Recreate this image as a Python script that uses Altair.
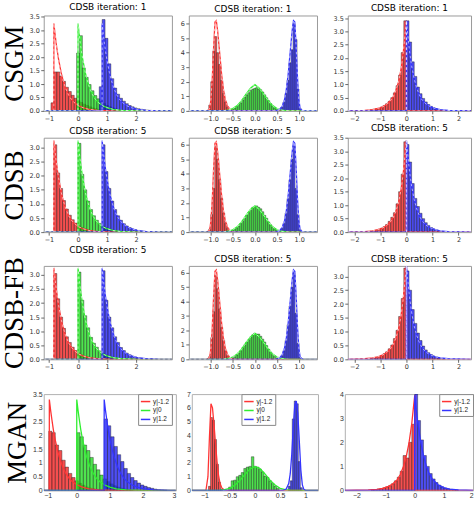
import altair as alt
import pandas as pd

# ---------------------------------------------------------------- series
SERIES = ["y|-1.2", "y|0", "y|1.2"]
BAR_KEYS = ["r", "g", "b"]
FILLS = ["#f21d1d", "#1fdd1f", "#1d1df2"]
STROKES = ["#ff3434", "#30ee30", "#3434ff"]

# ------------------------------------------------ column 1 density curves
# one-sided densities that start at tanh(y) for y = -1.2, 0, 1.2
STARTS = [-0.83, 0.0, 0.83]
EXP_DX = [0.0, 0.04, 0.08, 0.12, 0.16, 0.2, 0.25, 0.3, 0.4, 0.5, 0.6, 0.7, 0.85, 1.0, 1.2, 1.5, 2.0]
EXP_Y = [3.25, 2.85, 2.5, 2.2, 1.93, 1.7, 1.42, 1.2, 0.85, 0.6, 0.43, 0.31, 0.19, 0.12, 0.06, 0.02, 0.0]
MGAN_EXP_Y = [3.3, 2.9, 2.55, 2.22, 1.95, 1.72, 1.45, 1.22, 0.87, 0.62, 0.44, 0.32, 0.2, 0.12, 0.06, 0.02, 0.0]

# ------------------------------------------------ column 2 density curves
C2_RED_X = [-1.08, -1.02, -0.99, -0.96, -0.93, -0.9, -0.87, -0.84, -0.81, -0.78, -0.75, -0.71, -0.67, -0.62, -0.56, -0.48]
C2_RED_Y = [0.0, 0.15, 0.8, 2.3, 4.4, 6.1, 6.2, 5.5, 4.5, 3.5, 2.5, 1.5, 0.8, 0.35, 0.1, 0.0]
C2_GREEN_X = [-0.8, -0.7, -0.6, -0.5, -0.4, -0.3, -0.2, -0.1, 0.0, 0.1, 0.2, 0.3, 0.4, 0.5, 0.6, 0.7, 0.8]
C2_GREEN_Y = [0.0, 0.02, 0.06, 0.16, 0.36, 0.7, 1.15, 1.55, 1.8, 1.55, 1.15, 0.7, 0.36, 0.16, 0.06, 0.02, 0.0]
C2_BLUE_X = [0.48, 0.56, 0.62, 0.67, 0.71, 0.75, 0.78, 0.81, 0.84, 0.87, 0.9, 0.93, 0.96, 0.99, 1.02, 1.08]
C2_BLUE_Y = [0.0, 0.1, 0.35, 0.8, 1.5, 2.5, 3.5, 4.5, 5.5, 6.2, 6.1, 4.4, 2.3, 0.8, 0.15, 0.0]

# ------------------------------------------------ column 3 density curves
C3_RED_X = [-1.6, -1.3, -1.1, -0.9, -0.75, -0.6, -0.5, -0.4, -0.3, -0.2, -0.12, -0.05, 0.0, 0.005]
C3_RED_Y = [0.02, 0.05, 0.09, 0.16, 0.25, 0.4, 0.55, 0.78, 1.1, 1.6, 2.2, 2.9, 3.4, 0.0]
C3_BLUE_X = [-0.005, 0.0, 0.05, 0.12, 0.2, 0.3, 0.4, 0.5, 0.6, 0.75, 0.9, 1.1, 1.3, 1.6]
C3_BLUE_Y = [0.0, 3.4, 2.9, 2.25, 1.7, 1.2, 0.85, 0.6, 0.42, 0.26, 0.17, 0.09, 0.05, 0.02]

# ------------------------------------------------ MGAN density curves
M2_RED_X = [-0.97, -0.93, -0.9, -0.87, -0.84, -0.81, -0.78, -0.75, -0.72, -0.69, -0.65, -0.6, -0.54]
M2_RED_Y = [0.0, 1.0, 3.9, 6.3, 6.0, 4.8, 3.4, 2.1, 1.1, 0.5, 0.15, 0.04, 0.0]
M2_GREEN_X = [-0.7, -0.6, -0.5, -0.4, -0.3, -0.2, -0.1, 0.0, 0.1, 0.2, 0.3, 0.4, 0.5, 0.6, 0.7]
M2_GREEN_Y = [0.02, 0.06, 0.16, 0.38, 0.72, 1.15, 1.55, 1.75, 1.6, 1.2, 0.75, 0.4, 0.16, 0.06, 0.02]
M2_BLUE_X = [0.55, 0.62, 0.67, 0.7, 0.73, 0.76, 0.79, 0.82, 0.85, 0.88, 0.91, 0.94, 0.97, 1.01]
M2_BLUE_Y = [0.0, 0.1, 0.5, 1.2, 2.6, 4.6, 6.2, 6.5, 5.6, 3.6, 1.5, 0.4, 0.08, 0.0]
M3_RED_X = [-1.6, -1.3, -1.1, -0.9, -0.75, -0.6, -0.5, -0.4, -0.3, -0.2, -0.1, -0.04, 0.0, 0.005]
M3_RED_Y = [0.02, 0.05, 0.09, 0.17, 0.28, 0.45, 0.65, 0.95, 1.35, 1.95, 2.8, 3.5, 3.95, 0.0]
M3_BLUE_X = [-0.005, 0.0, 0.04, 0.1, 0.2, 0.3, 0.4, 0.5, 0.6, 0.8, 1.0, 1.2, 1.5]
M3_BLUE_Y = [0.0, 3.95, 3.45, 2.85, 2.05, 1.45, 1.0, 0.7, 0.48, 0.24, 0.12, 0.06, 0.02]

# ------------------------------------------------ histogram heights
# CSGM
CSGM_C1_RED = [0.3, 1.45, 1.45, 1.3, 1.1, 0.88, 0.72, 0.58, 0.47, 0.38, 0.31, 0.25, 0.2, 0.15, 0.11, 0.08, 0.05, 0.03, 0.02]
CSGM_C1_GREEN = [2.15, 2.8, 1.6, 1.25, 0.98, 0.75, 0.57, 0.45, 0.35, 0.27, 0.2, 0.15, 0.11, 0.08, 0.05, 0.03, 0.02]
CSGM_C1_BLUE = [0.9, 3.4, 2.7, 1.75, 1.2, 0.85, 0.62, 0.47, 0.36, 0.27, 0.2, 0.15, 0.11, 0.08, 0.06, 0.04, 0.03, 0.02, 0.01]
CSGM_C2_RED = [0.4, 2.0, 4.1, 5.1, 4.0, 3.2, 2.1, 1.2, 0.6, 0.25, 0.08]
CSGM_C2_GREEN = [0.12, 0.2, 0.3, 0.45, 0.55, 0.75, 0.95, 1.1, 1.25, 1.4, 1.5, 1.55, 1.6, 1.5, 1.45, 1.3, 1.1, 0.9, 0.7, 0.5, 0.35, 0.2, 0.12, 0.05]
CSGM_C2_BLUE = [0.08, 0.25, 0.6, 1.2, 2.1, 3.3, 4.2, 6.0, 4.9, 1.5, 0.2]
CSGM_C3_RED = [0.02, 0.04, 0.06, 0.08, 0.1, 0.14, 0.2, 0.27, 0.36, 0.5, 0.68, 0.95, 1.35, 2.2, 3.4]
CSGM_C3_BLUE = [3.4, 2.6, 1.85, 1.3, 0.9, 0.65, 0.47, 0.34, 0.24, 0.17, 0.12, 0.08, 0.05, 0.03, 0.015]
# CDSB
CDSB_C1_RED = [3.1, 2.1, 1.55, 1.12, 0.82, 0.6, 0.44, 0.32, 0.23, 0.17, 0.12, 0.09, 0.06, 0.045, 0.03, 0.02, 0.015, 0.01]
CDSB_C1_GREEN = [3.15, 2.05, 1.5, 1.1, 0.8, 0.58, 0.42, 0.31, 0.22, 0.16, 0.12, 0.08, 0.06, 0.04, 0.03, 0.02, 0.01]
CDSB_C1_BLUE = [3.1, 2.15, 1.55, 1.1, 0.8, 0.58, 0.42, 0.3, 0.22, 0.16, 0.11, 0.08, 0.06, 0.04, 0.03, 0.02, 0.015, 0.01]
CDSB_C2_RED = [0.2, 1.2, 3.0, 5.9, 5.0, 3.6, 2.3, 1.3, 0.6, 0.25, 0.1]
CDSB_C2_GREEN = [0.12, 0.2, 0.3, 0.42, 0.6, 0.75, 0.95, 1.15, 1.35, 1.5, 1.7, 1.75, 1.8, 1.7, 1.6, 1.4, 1.15, 0.95, 0.7, 0.5, 0.35, 0.22, 0.12, 0.06]
CDSB_C2_BLUE = [0.1, 0.25, 0.6, 1.3, 2.3, 3.6, 5.0, 5.9, 3.0, 1.2, 0.2]
CDSB_C3_RED = [0.02, 0.03, 0.05, 0.07, 0.1, 0.14, 0.2, 0.28, 0.4, 0.55, 0.72, 1.05, 1.5, 2.15, 3.35]
CDSB_C3_BLUE = [3.25, 2.6, 1.8, 1.25, 0.95, 0.7, 0.5, 0.35, 0.25, 0.17, 0.12, 0.08, 0.05, 0.03, 0.015]
# CDSB-FB
FB_C1_RED = [3.05, 2.15, 1.5, 1.1, 0.8, 0.6, 0.43, 0.31, 0.23, 0.16, 0.12, 0.09, 0.06, 0.045, 0.03, 0.02, 0.015, 0.01]
FB_C1_GREEN = [3.1, 2.1, 1.55, 1.12, 0.78, 0.57, 0.43, 0.3, 0.22, 0.16, 0.12, 0.08, 0.06, 0.04, 0.03, 0.02, 0.01]
FB_C1_BLUE = [3.15, 2.1, 1.5, 1.12, 0.8, 0.6, 0.42, 0.31, 0.22, 0.16, 0.11, 0.08, 0.06, 0.04, 0.03, 0.02, 0.015, 0.01]
FB_C2_RED = [0.2, 1.5, 3.3, 5.8, 4.9, 3.5, 2.2, 1.3, 0.6, 0.25, 0.08]
FB_C2_GREEN = [0.1, 0.18, 0.3, 0.45, 0.6, 0.8, 1.0, 1.2, 1.35, 1.55, 1.7, 1.8, 1.75, 1.75, 1.6, 1.4, 1.2, 0.95, 0.7, 0.5, 0.33, 0.2, 0.1, 0.05]
FB_C2_BLUE = [0.08, 0.25, 0.6, 1.3, 2.4, 3.7, 5.0, 6.0, 3.2, 1.1, 0.15]
FB_C3_RED = [0.02, 0.03, 0.05, 0.07, 0.1, 0.14, 0.2, 0.27, 0.38, 0.52, 0.75, 1.05, 1.55, 2.2, 3.3]
FB_C3_BLUE = [3.2, 2.5, 1.8, 1.3, 0.95, 0.68, 0.48, 0.34, 0.24, 0.17, 0.12, 0.08, 0.05, 0.03, 0.015]
# MGAN
MGAN_C1_RED = [2.15, 2.1, 1.65, 1.45, 1.1, 0.85, 0.62, 0.47, 0.35, 0.26, 0.19, 0.13, 0.09, 0.06, 0.04, 0.03, 0.02]
MGAN_C1_GREEN = [2.1, 1.95, 1.65, 1.45, 1.2, 0.95, 0.75, 0.56, 0.42, 0.32, 0.24, 0.17, 0.12, 0.08, 0.05, 0.03, 0.02]
MGAN_C1_BLUE = [2.6, 2.35, 1.95, 1.6, 1.3, 1.05, 0.8, 0.62, 0.47, 0.36, 0.27, 0.2, 0.15, 0.11, 0.08, 0.05, 0.03, 0.02, 0.01]
MGAN_C2_RED = [0.3, 5.3, 5.1, 3.7, 1.9, 0.6, 0.1]
MGAN_C2_GREEN = [0.25, 0.7, 0.75, 1.0, 1.1, 1.3, 1.6, 1.7, 1.75, 2.45, 1.75, 1.7, 1.55, 1.35, 1.05, 0.95, 0.7, 0.5, 0.3, 0.15]
MGAN_C2_BLUE = [0.3, 0.7, 5.2, 6.5, 6.3, 2.1, 0.2]
MGAN_C3_RED = [0.03, 0.04, 0.06, 0.08, 0.11, 0.15, 0.2, 0.28, 0.4, 0.55, 0.8, 1.45, 1.35, 2.0, 2.75]
MGAN_C3_BLUE = [4.0, 2.9, 2.1, 1.45, 1.0, 0.7, 0.48, 0.33, 0.22, 0.15, 0.1, 0.07, 0.05, 0.03, 0.02]

TITLES = ["CDSB iteration: 1", "CDSB iteration: 5", "CDSB iteration: 5"]
ROW_LABELS = ["CSGM", "CDSB", "CDSB-FB", "MGAN"]

# matplotlib-like and matlab-like axis looks
MPL = {"font": "DejaVu Sans", "size": 6.5, "ticks": True, "frame": "#9a9a9a"}
MAT = {"font": "Liberation Sans", "size": 7, "ticks": False, "frame": "#b0b0b0"}


def exp_curve(start, ys):
    return [start - 0.002] + [start + d for d in EXP_DX], [0.0] + ys


def axis(values, fmt, style, extent, label=None):
    kw = dict(values=values, format=fmt, labelFont=style["font"], labelFontSize=style["size"],
              labelColor="#333333", domain=False, grid=False, ticks=style["ticks"],
              tickSize=3, tickColor="#444444", tickWidth=0.8, labelPadding=1.5,
              minExtent=extent, maxExtent=extent)
    if label:
        kw.update(titleFont="Liberation Serif", titleFontSize=27,
                  titleFontWeight="normal", titleColor="black", titlePadding=3)
    return alt.Axis(**kw)


def panel(hists, curves, xdom, ydom, xvals, yvals, xfmt, yfmt, w, h, style,
          yext, title=None, label=None, legend=None, dashed=True):
    bars = []
    for si, start, width, heights in hists:
        for k, v in enumerate(heights):
            bars.append({"grp": BAR_KEYS[si], "x": start + k * width,
                         "x1": start + (k + 1) * width, "y": v, "b": 0.0})
    pts = []
    present = []
    for si, xs, ys in curves:
        present.append(si)
        seq = [(xdom[0], 0.0)] + list(zip(xs, ys)) + [(xdom[1], 0.0)]
        for i, (x, y) in enumerate(seq):
            pts.append({"s": SERIES[si], "x": x, "y": y, "i": i})
    bdf = pd.DataFrame(bars)
    cdf = pd.DataFrame(pts)
    xscale = alt.Scale(domain=xdom, nice=False, zero=False)
    yscale = alt.Scale(domain=ydom, nice=False, zero=False)
    xax = axis(xvals, xfmt, style, 10)
    yax = axis(yvals, yfmt, style, yext, label)
    ytitle = label if label else None
    X = alt.X("x:Q", scale=xscale, axis=xax, title=None)
    Y = alt.Y("y:Q", scale=yscale, axis=yax, title=ytitle)

    rects = alt.Chart(bdf).mark_rect(stroke="#1a1a1a", strokeWidth=0.4,
                                     fillOpacity=0.78, clip=True).encode(
        x=X, x2="x1:Q", y=Y, y2="b:Q",
        fill=alt.Fill("grp:N", scale=alt.Scale(domain=BAR_KEYS, range=FILLS), legend=None),
    )
    stroke_scale = alt.Scale(domain=[SERIES[i] for i in present],
                             range=[STROKES[i] for i in present])
    lines = alt.Chart(cdf).mark_line(strokeWidth=1.3, clip=True).encode(
        x=X, y=Y,
        stroke=alt.Stroke("s:N", scale=stroke_scale, legend=legend),
        order="i:Q",
    )
    layers = [rects, lines]
    if dashed:
        dash = alt.Chart(cdf).mark_line(color="white", strokeWidth=0.7, opacity=0.85,
                                        strokeDash=[2.5, 2.5], clip=True).encode(
            x=X, y=Y, detail="s:N", order="i:Q",
        )
        layers.append(dash)
    props = dict(width=w, height=h, view=alt.ViewBackground(stroke=style["frame"], strokeWidth=1))
    if title:
        props["title"] = alt.TitleParams(title, font="DejaVu Sans", fontSize=9,
                                         fontWeight="normal", color="black", offset=2)
    return alt.layer(*layers).properties(**props)


def indep(chart):
    return chart.resolve_scale(fill="independent", stroke="independent").resolve_legend(stroke="independent")


def mgan_legend(lx, ly):
    return alt.Legend(title=None, orient="none", legendX=lx, legendY=ly, direction="vertical",
                      symbolType="stroke", symbolSize=90, symbolStrokeWidth=1.5,
                      labelFont="Liberation Sans", labelFontSize=6.5, labelColor="#222222",
                      labelOffset=2, rowPadding=0, padding=2, strokeColor="#888888",
                      fillColor="white", cornerRadius=0)


C1_X = [-1.18, 3.23]
C2_X = [-1.49, 1.4]
C3_X = [-2.25, 2.48]
Y_HALF_35 = [0, 0.5, 1.0, 1.5, 2.0, 2.5, 3.0, 3.5]


def cdsb_row(k, c1, c2, c3, h, y1, y3):
    r, g, b = c1
    hist1 = [(0, STARTS[0], 0.1, r), (1, STARTS[1], 0.1, g), (2, STARTS[2], 0.1, b)]
    if k == 0:
        hist1 = [(0, -0.93, 0.1, r), (1, -0.05, 0.1, g), (2, 0.73, 0.1, b)]
    curves1 = []
    for i in range(3):
        cx, cy = exp_curve(STARTS[i], EXP_Y)
        curves1.append((i, cx, cy))
    p1 = panel(hist1, curves1, C1_X, y1,
               [-1, 0, 1, 2], [v for v in Y_HALF_35 if v <= y1[1]], "d", ".1f",
               129, h, MPL, 12, TITLES[k], ROW_LABELS[k])
    r, g, b = c2
    p2 = panel([(0, -1.04, 0.045, r), (1, -0.52, 0.045, g), (2, 0.545, 0.045, b)],
               [(0, C2_RED_X, C2_RED_Y), (1, C2_GREEN_X, C2_GREEN_Y), (2, C2_BLUE_X, C2_BLUE_Y)],
               C2_X, [0, 6.55 if k == 0 else 6.48], [-1.0, -0.5, 0.0, 0.5, 1.0], [0, 1, 2, 3, 4, 5, 6],
               ".1f", "d", 129, h, MPL, 12, TITLES[k])
    r, b = c3
    p3 = panel([(0, -1.5, 0.1, r), (2, 0.0, 0.1, b)],
               [(0, C3_RED_X, C3_RED_Y), (2, C3_BLUE_X, C3_BLUE_Y)],
               C3_X, y3, [-2, -1, 0, 1, 2], [v for v in Y_HALF_35 if v <= y3[1]],
               "d", ".1f", 124, h, MPL, 26, TITLES[k])
    return indep(alt.hconcat(p1, p2, p3, spacing=3))


row1 = cdsb_row(0, (CSGM_C1_RED, CSGM_C1_GREEN, CSGM_C1_BLUE), (CSGM_C2_RED, CSGM_C2_GREEN, CSGM_C2_BLUE),
                (CSGM_C3_RED, CSGM_C3_BLUE), 96, [0, 3.55], [0, 3.6])
row2 = cdsb_row(1, (CDSB_C1_RED, CDSB_C1_GREEN, CDSB_C1_BLUE), (CDSB_C2_RED, CDSB_C2_GREEN, CDSB_C2_BLUE),
                (CDSB_C3_RED, CDSB_C3_BLUE), 95, [0, 3.35], [0, 3.5])
row3 = cdsb_row(2, (FB_C1_RED, FB_C1_GREEN, FB_C1_BLUE), (FB_C2_RED, FB_C2_GREEN, FB_C2_BLUE),
                (FB_C3_RED, FB_C3_BLUE), 94, [0, 3.32], [0, 3.38])

# MGAN row (matlab-style axes with legends)
m_curves1 = []
for i in range(3):
    cx, cy = exp_curve(STARTS[i], MGAN_EXP_Y)
    m_curves1.append((i, cx, cy))
m1 = panel([(0, -0.85, 0.1, MGAN_C1_RED), (1, 0.0, 0.1, MGAN_C1_GREEN), (2, 0.83, 0.1, MGAN_C1_BLUE)],
           m_curves1, [-1, 3], [0, 3.5], [-1, 0, 1, 2, 3], Y_HALF_35, "~g", "~g",
           133, 97, MAT, 9, None, ROW_LABELS[3], mgan_legend(95, 0), dashed=False)
m2 = panel([(0, -0.92, 0.04, MGAN_C2_RED), (1, -0.52, 0.05, MGAN_C2_GREEN), (2, 0.66, 0.04, MGAN_C2_BLUE)],
           [(0, M2_RED_X, M2_RED_Y), (1, M2_GREEN_X, M2_GREEN_Y), (2, M2_BLUE_X, M2_BLUE_Y)],
           [-1.25, 1.25], [0, 7], [-1, -0.5, 0, 0.5, 1], [0, 1, 2, 3, 4, 5, 6, 7], "~g", "d",
           127, 97, MAT, 11, None, None, mgan_legend(50, 0), dashed=False)
m3 = panel([(0, -1.5, 0.1, MGAN_C3_RED), (2, 0.0, 0.1, MGAN_C3_BLUE)],
           [(0, M3_RED_X, M3_RED_Y), (2, M3_BLUE_X, M3_BLUE_Y)],
           [-2.4, 2], [0, 4], [-2, -1, 0, 1, 2], [0, 1, 2, 3, 4], "d", "d",
           129, 97, MAT, 22, None, None, mgan_legend(95, 0), dashed=False)
row4 = indep(alt.hconcat(m1, m2, m3, spacing=3))

top = indep(alt.vconcat(row1, row2, spacing=0))
bottom = indep(alt.vconcat(row3, row4, spacing=18))
chart = indep(alt.vconcat(top, bottom, spacing=1)).properties(
    padding={"left": 0, "top": 0, "right": 0, "bottom": 0},
    background="white",
)

chart.save("out.html", embed_options={"renderer": "svg", "actions": False})
